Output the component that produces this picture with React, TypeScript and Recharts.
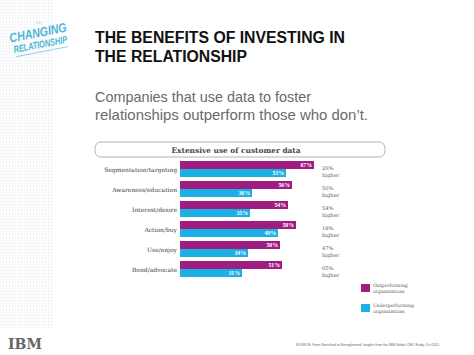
import React from 'react';
import { BarChart, Bar, XAxis, YAxis, LabelList, Legend } from 'recharts';

const categories = ['Segmentation/targeting', 'Awareness/education', 'Interest/desire', 'Action/buy', 'Use/enjoy', 'Bond/advocate'];
const outperforming = [67, 56, 54, 58, 50, 51];
const underperforming = [53, 36, 35, 49, 34, 31];
const higherPct = [26, 56, 54, 18, 47, 65];
const seriesNames = ['Outperforming organizations', 'Underperforming organizations'];

const MAGENTA = '#9d1e80';
const CYAN = '#1cb0e6';

const data = categories.map((name, i) => ({ name, out: outperforming[i], under: underperforming[i] }));

const serif = '"DejaVu Serif", serif';
const sans = '"Liberation Sans", Arial, sans-serif';

const CatTick = (props: any) => {
  const { x, y, payload } = props;
  return (
    <text x={x} y={y} textAnchor="end" dominantBaseline="central" fontSize={6} fill="#444" fontFamily={serif}>
      {payload.value}
    </text>
  );
};

const HigherLabel = (props: any) => {
  const { x, y, height, index } = props;
  const cx = Number(x) + 142;
  const cy = Number(y) + Number(height);
  return (
    <g>
      <text x={cx} y={cy - 1.5} dominantBaseline="central" fontSize={5.2} fill="#555" fontFamily={serif}>{higherPct[index]}%</text>
      <text x={cx} y={cy + 5.5} dominantBaseline="central" fontSize={5.2} fill="#555" fontFamily={serif}>higher</text>
    </g>
  );
};

const LegendContent = (props: any) => {
  const { payload } = props;
  return (
    <div>
      {(payload || []).map((p: any, i: number) => {
        const words = String(p.value).split(' ');
        return (
          <div key={i} style={{ display: 'flex', alignItems: 'flex-start', height: 20 }}>
            <div style={{ width: 9, height: 8, background: p.color, marginTop: 1, marginRight: 3 }} />
            <div style={{ fontFamily: serif, fontSize: 4.6, color: '#555', lineHeight: '6px' }}>
              <div>{words[0]}</div>
              <div>{words[1]}</div>
            </div>
          </div>
        );
      })}
    </div>
  );
};

const Grid = () => (
  <g>
    <defs>
      <pattern id="gridp" width="3" height="3" patternUnits="userSpaceOnUse">
        <path d="M3 0 L0 0 0 3" fill="none" stroke="#dfe7ec" strokeWidth="0.6" />
      </pattern>
    </defs>
    <rect x={0} y={0} width={53} height={328} fill="url(#gridp)" />
  </g>
);

export default function App() {
  return (
    <div style={{ position: 'absolute', left: 0, top: 0, width: 474, height: 355, background: '#fff', overflow: 'hidden' }}>
      <svg width={474} height={355} style={{ position: 'absolute', left: 0, top: 0 }}>
        <Grid />
        <g transform="rotate(-11 39 38)">
          <text x={41} y={24} textAnchor="middle" fontSize={3} fill="#7fc8de" fontFamily={sans}>THE</text>
          <text x={39} y={37} textAnchor="middle" fontSize={13} fontWeight="bold" fontStyle="italic" fill="#4cb6d6" fontFamily={sans} transform="translate(39 0) scale(0.82 1) translate(-39 0)">CHANGING</text>
          <text x={39} y={48} textAnchor="middle" fontSize={10} fontWeight="bold" fontStyle="italic" fill="#4cb6d6" fontFamily={sans} transform="translate(39 0) scale(0.74 1) translate(-39 0)">RELATIONSHIP</text>
          <line x1={13} y1={52} x2={66} y2={52} stroke="#7fc8de" strokeWidth={0.8} />
        </g>
        <text x={95} y={43} fontSize={15.6} fontWeight="bold" fill="#111" fontFamily={sans} textLength={250} lengthAdjust="spacingAndGlyphs">THE BENEFITS OF INVESTING IN</text>
        <text x={95} y={62} fontSize={15.6} fontWeight="bold" fill="#111" fontFamily={sans} textLength={152} lengthAdjust="spacingAndGlyphs">THE RELATIONSHIP</text>
        <text x={95} y={102} fontSize={15} fill="#6a6a6a" fontFamily={sans} textLength={216} lengthAdjust="spacingAndGlyphs">Companies that use data to foster</text>
        <text x={95} y={120} fontSize={15} fill="#6a6a6a" fontFamily={sans} textLength={273} lengthAdjust="spacingAndGlyphs">relationships outperform those who don’t.</text>
        <rect x={95} y={142} width={290} height={15} rx={6} ry={6} fill="#fff" stroke="#8aa3b0" strokeWidth={0.8} />
        <text x={236} y={150} textAnchor="middle" dominantBaseline="central" fontSize={7.4} fontWeight="bold" fill="#444" fontFamily={serif}>Extensive use of customer data</text>
        <text x={8} y={349} fontSize={14} fontWeight="bold" fill="#666" fontFamily={serif}>IBM</text>
        <text x={296} y={346} fontSize={3.4} fill="#666" fontFamily={sans}>SOURCE: From Stretched to Strengthened: Insights from the IBM Global CMO Study, Oct 2011</text>
      </svg>
      <BarChart
        width={474}
        height={355}
        data={data}
        layout="vertical"
        margin={{ top: 159, right: 94, bottom: 36, left: 0 }}
        barGap={0}
        style={{ position: 'absolute', left: 0, top: 0 }}
      >
        <XAxis type="number" domain={[0, 100]} hide />
        <YAxis type="category" dataKey="name" width={180} axisLine={false} tickLine={false} tickSize={0} tickMargin={3} tick={<CatTick />} interval={0} />
        <Legend
          layout="vertical"
          content={<LegendContent />}
          wrapperStyle={{ position: 'absolute', left: 361, top: 283, width: 100 }}
        />
        <Bar dataKey="out" name={seriesNames[0]} fill={MAGENTA} barSize={8} isAnimationActive={false}>
          <LabelList dataKey="out" position="insideRight" offset={2} fill="#fff" fontSize={5.8} fontWeight="bold" formatter={(v: any) => `${v}%`} />
          <LabelList dataKey="out" content={<HigherLabel />} />
        </Bar>
        <Bar dataKey="under" name={seriesNames[1]} fill={CYAN} barSize={8} isAnimationActive={false}>
          <LabelList dataKey="under" position="insideRight" offset={2} fill="#fff" fontSize={5.8} fontWeight="bold" formatter={(v: any) => `${v}%`} />
        </Bar>
      </BarChart>
    </div>
  );
}
